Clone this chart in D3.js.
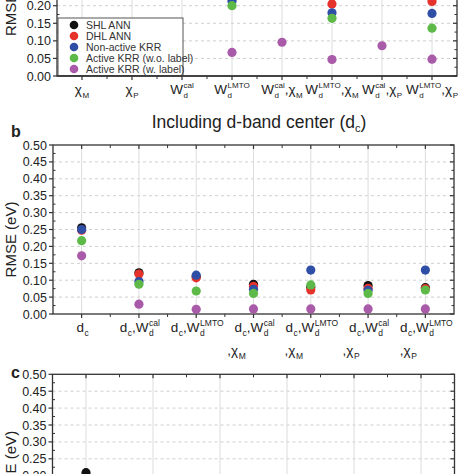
<!DOCTYPE html>
<html>
<head>
<meta charset="UTF-8">
<title>RMSE comparison</title>
<script src="https://d3js.org/d3.v7.min.js"></script>
<style>
  body { margin: 0; background: #fff; }
  svg { display: block; font-family: Arial, "Liberation Sans", sans-serif; }
  .tick-label { font-size: 12.5px; fill: #222; }
  .grid-h { stroke: #cfcfcf; stroke-dasharray: 3,3; stroke-width: 1; }
  .grid-v { stroke: #dcdcdc; stroke-width: 1; }
  .frame { fill: none; stroke: #333; stroke-width: 1.3; }
</style>
</head>
<body>
<svg id="chart" width="474" height="474"></svg>
<script>
// series (legend order)
const seriesNames = ["SHL ANN", "DHL ANN", "Non-active KRR", "Active KRR (w.o. label)", "Active KRR (w. label)"];
const seriesColors = ["#111111", "#e5322b", "#2f4ea6", "#5dba48", "#a95ba9"];

// panel a (only its lower part is in view)
const catsA = ["χ_{M}", "χ_{P}", "W_{d}^{cal}", "W_{d}^{LMTO}", "W_{d}^{cal},χ_{M}", "W_{d}^{LMTO},χ_{M}", "W_{d}^{cal},χ_{P}", "W_{d}^{LMTO},χ_{P}"];
const shlA = [null, null, null, null, null, null, null, null];
const dhlA = [null, null, null, null, null, 0.205, null, 0.212];
const nonA = [null, null, null, 0.213, null, 0.180, null, 0.178];
const woA  = [null, null, null, 0.200, null, 0.164, null, 0.136];
const wA   = [null, null, null, 0.067, 0.096, 0.047, 0.086, 0.048];

// panel b: including d-band center
const catsB = ["d_{c}", "d_{c},W_{d}^{cal}", "d_{c},W_{d}^{LMTO}", "d_{c},W_{d}^{cal}|,χ_{M}", "d_{c},W_{d}^{LMTO}|,χ_{M}", "d_{c},W_{d}^{cal}|,χ_{P}", "d_{c},W_{d}^{LMTO}|,χ_{P}"];
const shlB = [0.255, 0.122, 0.110, 0.088, 0.080, 0.084, 0.078];
const dhlB = [0.248, 0.118, 0.107, 0.082, 0.071, 0.076, 0.075];
const nonB = [0.250, 0.096, 0.115, 0.073, 0.130, 0.070, 0.130];
const woB  = [0.217, 0.088, 0.068, 0.061, 0.086, 0.061, 0.071];
const wB   = [0.172, 0.029, 0.014, 0.015, 0.015, 0.015, 0.015];

// panel c (only its top is in view)
const catsC = ["1", "2", "3", "4", "5", "6"];
const shlC = [0.209, null, null, null, null, null];

const yTicks = [0, 0.05, 0.10, 0.15, 0.20, 0.25, 0.30, 0.35, 0.40, 0.45, 0.50];

const svg = d3.select("#chart");

// parse "W_{d}^{cal}" into segments
function parseLabel(s) {
  const segs = [];
  let i = 0;
  while (i < s.length) {
    if ((s[i] === "_" || s[i] === "^") && s[i + 1] === "{") {
      const type = s[i] === "_" ? "sub" : "sup";
      const end = s.indexOf("}", i);
      const txt = s.slice(i + 2, end);
      i = end + 1;
      const last = segs[segs.length - 1];
      if (type === "sup" && last && last.type === "sub") {
        last.type = "subsup"; last.sup = txt;
      } else {
        segs.push({ type: type, t: txt });
      }
    } else {
      let j = i;
      while (j < s.length && !((s[j] === "_" || s[j] === "^") && s[j + 1] === "{")) j++;
      segs.push({ type: "base", t: s.slice(i, j) });
      i = j;
    }
  }
  return segs;
}

function drawRich(g, str, cx, baseY, size, small) {
  const grp = g.append("g");
  let x = 0;
  parseLabel(str).forEach(sg => {
    if (sg.type === "base") {
      const t = grp.append("text").attr("x", x).attr("y", 0)
        .style("font-size", size + "px").attr("fill", "#222").text(sg.t);
      x += t.node().getComputedTextLength();
    } else {
      let w = 0;
      if (sg.type === "sub" || sg.type === "subsup") {
        const t = grp.append("text").attr("x", x + 0.5).attr("y", size * 0.33)
          .style("font-size", small + "px").attr("fill", "#222").text(sg.t);
        w = Math.max(w, t.node().getComputedTextLength() + 0.5);
      }
      if (sg.type === "sup" || sg.type === "subsup") {
        const st = sg.type === "sup" ? sg.t : sg.sup;
        const t = grp.append("text").attr("x", x + 0.5).attr("y", -size * 0.45)
          .style("font-size", small + "px").attr("fill", "#222").text(st);
        w = Math.max(w, t.node().getComputedTextLength() + 0.5);
      }
      x += w;
    }
  });
  grp.attr("transform", `translate(${cx - x / 2},${baseY})`);
  return x;
}

function drawPanel(p) {
  const g = svg.append("g");
  const x = d3.scaleBand().domain(p.cats).range([p.left, p.right]);
  const y = d3.scaleLinear().domain([0, 0.5]).range([p.y0, p.yTop]);
  const xc = c => x(c) + x.bandwidth() / 2;

  // grid
  g.selectAll(".gh").data(yTicks.slice(1, -1)).enter().append("line")
    .attr("class", "grid-h").attr("x1", p.left).attr("x2", p.right)
    .attr("y1", d => y(d)).attr("y2", d => y(d));
  g.selectAll(".gv").data(p.cats).enter().append("line")
    .attr("class", "grid-v").attr("x1", xc).attr("x2", xc)
    .attr("y1", p.yTop).attr("y2", p.y0);

  // ticks on all four sides
  const minor = d3.range(0.025, 0.5, 0.05);
  yTicks.forEach(v => {
    g.append("line").attr("x1", p.left - 4).attr("x2", p.left).attr("y1", y(v)).attr("y2", y(v)).attr("stroke", "#333").attr("stroke-width", 1.2);
    g.append("line").attr("x1", p.right - 4).attr("x2", p.right).attr("y1", y(v)).attr("y2", y(v)).attr("stroke", "#333").attr("stroke-width", 1.2);
    g.append("text").attr("class", "tick-label").attr("x", p.left - 6).attr("y", y(v) + 4.5)
      .attr("text-anchor", "end").text(v.toFixed(2));
  });
  minor.forEach(v => {
    g.append("line").attr("x1", p.left).attr("x2", p.left + 2.5).attr("y1", y(v)).attr("y2", y(v)).attr("stroke", "#333");
    g.append("line").attr("x1", p.right - 2.5).attr("x2", p.right).attr("y1", y(v)).attr("y2", y(v)).attr("stroke", "#333");
  });
  p.cats.forEach((c, i) => {
    const cx = xc(c);
    g.append("line").attr("x1", cx).attr("x2", cx).attr("y1", p.y0).attr("y2", p.y0 + 4).attr("stroke", "#333").attr("stroke-width", 1.2);
    g.append("line").attr("x1", cx).attr("x2", cx).attr("y1", p.yTop).attr("y2", p.yTop + 4).attr("stroke", "#333").attr("stroke-width", 1.2);
    if (i > 0) {
      const mx = x(c);
      g.append("line").attr("x1", mx).attr("x2", mx).attr("y1", p.y0).attr("y2", p.y0 + 3).attr("stroke", "#333");
      g.append("line").attr("x1", mx).attr("x2", mx).attr("y1", p.yTop).attr("y2", p.yTop + 3).attr("stroke", "#333");
    }
  });
  g.append("rect").attr("class", "frame").attr("x", p.left).attr("y", p.yTop)
    .attr("width", p.right - p.left).attr("height", p.y0 - p.yTop);

  // category labels
  if (p.labels) {
    p.cats.forEach(c => {
      const parts = c.split("|");
      drawRich(g, parts[0], xc(c) + p.labelDx, p.labelY, p.labelSize, p.labelSmall);
      if (parts[1]) drawRich(g, parts[1], xc(c) - 17, p.labelY + 23, p.labelSize, p.labelSmall);
    });
  }

  // points, drawn in legend order
  p.series.forEach((vals, si) => {
    g.selectAll(null).data(p.cats.map((c, i) => ({ c: c, v: vals[i] })).filter(d => d.v != null))
      .enter().append("circle")
      .attr("cx", d => xc(d.c)).attr("cy", d => y(d.v)).attr("r", 4.6)
      .attr("fill", seriesColors[si]);
  });

  // y title
  const my = (p.y0 + p.yTop) / 2 + 10;
  g.append("text").attr("transform", `translate(15.5,${my}) rotate(-90)`)
    .attr("text-anchor", "middle").style("font-size", "15px").attr("fill", "#222")
    .text("RMSE (eV)");

  if (p.tag) {
    g.append("text").attr("x", 11).attr("y", p.tagY).style("font-size", "16px")
      .style("font-weight", "bold").attr("fill", "#222").text(p.tag);
  }
  return { g: g, x: x, y: y };
}

// panel a
const pa = drawPanel({
  cats: catsA, left: 57, right: 457, y0: 76, yTop: 76 - 175.75,
  series: [shlA, dhlA, nonA, woA, wA],
  labels: true, labelY: 94, labelSize: 13.5, labelSmall: 8, labelDx: 0
});

// legend inside panel a
const lg = pa.g.append("g");
lg.append("rect").attr("x", 58).attr("y", 18).attr("width", 125).attr("height", 57.5)
  .attr("fill", "#fff").attr("stroke", "#555").attr("stroke-width", 1);
seriesNames.forEach((n, i) => {
  const yy = 25 + i * 11;
  lg.append("circle").attr("cx", 74).attr("cy", yy).attr("r", 4.3).attr("fill", seriesColors[i]);
  lg.append("text").attr("x", 86).attr("y", yy + 4).style("font-size", "10.5px").attr("fill", "#333").text(n);
});
// redraw panel a bottom axis line over legend box edge
pa.g.append("line").attr("x1", 57).attr("x2", 457).attr("y1", 76).attr("y2", 76).attr("stroke", "#333").attr("stroke-width", 1.3);

// title of panel b
const title = svg.append("text").attr("x", 259).attr("y", 128).attr("text-anchor", "middle")
  .style("font-size", "17.5px").attr("fill", "#222");
title.append("tspan").text("Including d-band center (d");
title.append("tspan").attr("dy", 4).style("font-size", "11px").text("c");
title.append("tspan").attr("dy", -4).text(")");

// panel b
drawPanel({
  cats: catsB, left: 53, right: 454, y0: 314, yTop: 145,
  series: [shlB, dhlB, nonB, woB, wB],
  labels: true, labelY: 332, labelSize: 13.5, labelSmall: 8.5, labelDx: 1,
  tag: "b", tagY: 137
});

// panel c
drawPanel({
  cats: catsC, left: 52.5, right: 454.5, y0: 543.3, yTop: 374.3,
  series: [shlC, [], [], [], []],
  labels: false, tag: "c", tagY: 378
});
</script>
</body>
</html>
